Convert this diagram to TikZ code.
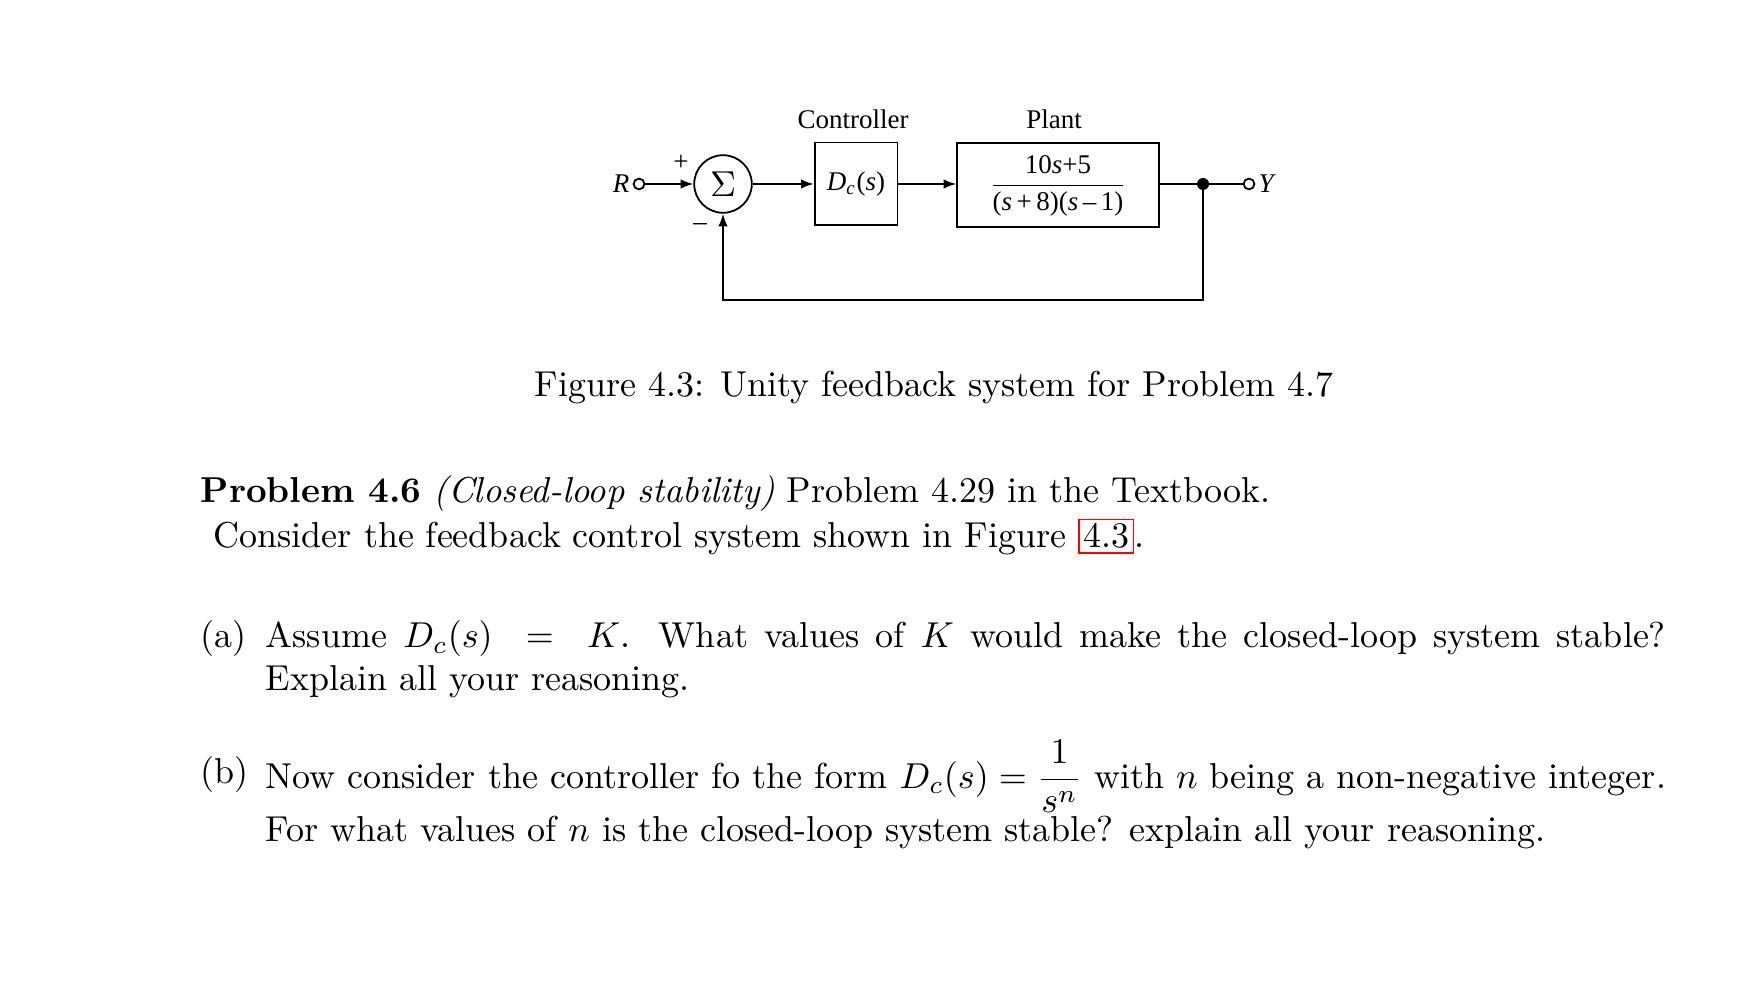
\documentclass[tikz,border=0pt]{standalone}
\usepackage{fontspec}
\newfontfamily\tms{Liberation Serif}
\usetikzlibrary{arrows.meta}
\begin{document}
\begin{tikzpicture}[x=0.2778pt,y=-0.2778pt,
  blk/.style={draw,line width=0.5pt,inner sep=0pt},
  sig/.style={line width=0.5pt,-{Latex[length=3.5pt,width=2.6pt]}},
  ln/.style={line width=0.5pt},
  port/.style={circle,draw,line width=0.5pt,fill=white,minimum size=3pt,inner sep=0pt},
  lbl/.style={font=\tms\fontsize{7.5}{9}\selectfont,inner sep=0pt},
  txt/.style={inner sep=0pt,anchor=base west}]
\useasboundingbox (0,0) rectangle (1754,1000);
% diagram
\node[port] (r) at (639,184) {};
\node[lbl,anchor=east] (rl) at (630,184) {\itshape R};
\node[circle,draw,line width=0.5pt,inner sep=0pt,minimum size=16pt] (sum) at (723,184) {$\Sigma$};
\node[blk,minimum width=23pt,minimum height=23pt] (dc) at (856,184) {};
\node[lbl] at (dc) {\itshape D\textsubscript{\itshape c}\upshape(\itshape s\upshape)};
\node[blk,minimum width=56pt,minimum height=23.5pt] (pl) at (1058,185) {};
\node[lbl] at (1058,186) {$\displaystyle\frac{\hbox{\tms\fontsize{7.5}{9}\selectfont 10\itshape s\upshape+5}}{\hbox{\tms\fontsize{7.5}{9}\selectfont(\itshape s\upshape\,+\,8)(\itshape s\upshape\,\textendash\,1)}}$};
\node[lbl] (ct) at (853,119) {Controller};
\node[lbl] (pt) at (1054,119) {Plant};
\node[lbl] (pls) at (681,163) {+};
\node[lbl] (mns) at (700,227) {\textendash};
\coordinate (br) at (1203,184);
\fill (br) circle (6);
\node[port] (y) at (1249,184) {};
\node[lbl,anchor=west] (yl) at (1258,184) {\itshape Y};
\coordinate (bot) at (1203,300);
\draw[sig] (r) -- (sum);
\draw[sig] (sum) -- (dc);
\draw[sig] (dc) -- (pl.west|-dc);
\draw[ln] (pl.east|-br) -- (br) -- (y);
\draw[sig] (br) -- (bot) -| (sum.south);
% text
\node[inner sep=0pt] (cap) at (934,388) {Figure 4.3: Unity feedback system for Problem 4.7};
\node[txt] (p1) at (200,503) {\textbf{Problem 4.6} \textit{(Closed-loop stability)} Problem 4.29 in the Textbook.};
\node[txt] (p2) at (213,548) {Consider the feedback control system shown in Figure {\setlength{\fboxsep}{1pt}\fcolorbox{red}{white}{4.3}}.};
\node[txt] (la) at (200,648) {(a)};
\node[inner sep=0pt,anchor=north west,text width=389pt,align=justify] (ta) at (265,620) {Assume $D_c(s)\ =\ K$. What values of $K$ would make the closed-loop system stable? Explain all your reasoning.};
\node[txt] (lb) at (200,784) {(b)};
\node[inner sep=0pt,anchor=north west,text width=389pt,align=justify] (tb) at (265,740) {Now consider the controller fo the form $D_c(s) = \displaystyle\frac{1}{s^n}$ with $n$ being a non-negative integer. For what values of $n$ is the closed-loop system stable? explain all your reasoning.};
\end{tikzpicture}
\end{document}
